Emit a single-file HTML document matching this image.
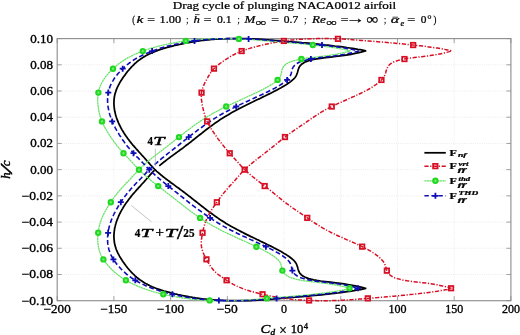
<!DOCTYPE html>
<html><head><meta charset="utf-8"><title>Drag cycle of plunging NACA0012 airfoil</title>
<style>html,body{margin:0;padding:0;background:#fff}svg text{white-space:pre}</style></head>
<body>
<svg width="520" height="335" viewBox="0 0 520 335" style="display:block;filter:blur(0.4px)">
<rect width="520" height="335" fill="#fff"/>
<path d="M113.91 38.6 V300.7 M170.62 38.6 V300.7 M227.34 38.6 V300.7 M284.05 38.6 V300.7 M340.76 38.6 V300.7 M397.47 38.6 V300.7 M454.19 38.6 V300.7 M57.2 64.81 H510.9 M57.2 91.02 H510.9 M57.2 117.23 H510.9 M57.2 143.44 H510.9 M57.2 169.65 H510.9 M57.2 195.86 H510.9 M57.2 222.07 H510.9 M57.2 248.28 H510.9 M57.2 274.49 H510.9" fill="none" stroke="#dedede" stroke-width="0.7" stroke-dasharray="0.8 1.4"/>
<rect x="57.2" y="38.6" width="453.7" height="262.1" fill="none" stroke="#909090" stroke-width="1.15"/>
<path d="M57.20 300.7v-4.5M57.20 38.6v4.5 M113.91 300.7v-4.5M113.91 38.6v4.5 M170.62 300.7v-4.5M170.62 38.6v4.5 M227.34 300.7v-4.5M227.34 38.6v4.5 M284.05 300.7v-4.5M284.05 38.6v4.5 M340.76 300.7v-4.5M340.76 38.6v4.5 M397.47 300.7v-4.5M397.47 38.6v4.5 M454.19 300.7v-4.5M454.19 38.6v4.5 M510.90 300.7v-4.5M510.90 38.6v4.5 M57.2 38.60h4.5M510.9 38.60h-4.5 M57.2 64.81h4.5M510.9 64.81h-4.5 M57.2 91.02h4.5M510.9 91.02h-4.5 M57.2 117.23h4.5M510.9 117.23h-4.5 M57.2 143.44h4.5M510.9 143.44h-4.5 M57.2 169.65h4.5M510.9 169.65h-4.5 M57.2 195.86h4.5M510.9 195.86h-4.5 M57.2 222.07h4.5M510.9 222.07h-4.5 M57.2 248.28h4.5M510.9 248.28h-4.5 M57.2 274.49h4.5M510.9 274.49h-4.5 M57.2 300.70h4.5M510.9 300.70h-4.5" fill="none" stroke="#8a8a8a" stroke-width="0.8"/>
<g fill="none" stroke-linejoin="round">
<path d="M159.3 165.8 L160.7 164.6 L162.1 163.5 L163.5 162.3 L165.0 161.2 L166.4 160.1 L168.0 158.9 L169.5 157.8 L171.0 156.6 L172.6 155.5 L174.1 154.4 L175.7 153.2 L177.2 152.1 L178.8 151.0 L180.3 149.8 L181.9 148.7 L183.4 147.6 L184.9 146.4 L186.3 145.3 L187.8 144.2 L189.2 143.1 L190.7 142.0 L192.1 140.8 L193.5 139.7 L194.9 138.6 L196.3 137.5 L197.7 136.4 L199.1 135.3 L200.5 134.2 L201.9 133.1 L203.3 132.0 L204.7 130.9 L206.1 129.8 L207.5 128.7 L209.0 127.6 L210.4 126.6 L211.9 125.5 L213.4 124.4 L214.9 123.3 L216.4 122.3 L218.0 121.2 L219.5 120.1 L221.1 119.1 L222.8 118.0 L224.4 117.0 L226.1 115.9 L227.9 114.9 L229.6 113.9 L231.4 112.8 L233.3 111.8 L235.2 110.8 L237.1 109.7 L239.0 108.7 L241.0 107.7 L242.9 106.7 L244.9 105.7 L246.9 104.7 L249.0 103.7 L251.0 102.7 L253.0 101.8 L255.0 100.8 L257.0 99.8 L259.1 98.9 L261.0 97.9 L263.0 96.9 L265.0 96.0 L266.9 95.0 L268.8 94.1 L270.7 93.2 L272.5 92.3 L274.3 91.3 L276.1 90.4 L277.8 89.5 L279.5 88.6 L281.1 87.7 L282.6 86.8 L284.1 85.9 L285.6 85.1 L286.9 84.2 L288.2 83.3 L289.4 82.5 L290.6 81.6 L291.6 80.8 L292.6 79.9 L293.5 79.1 L294.3 78.3 L295.0 77.5 L295.6 76.7 L296.1 75.9 L296.5 75.1 L296.8 74.3 L297.1 73.5 L297.4 72.7 L297.6 72.0 L297.8 71.2 L298.0 70.4 L298.2 69.7 L298.5 69.0 L298.7 68.2 L299.1 67.5 L299.4 66.8 L299.9 66.1 L300.5 65.4 L301.1 64.7 L301.9 64.0 L302.8 63.4 L303.9 62.7 L305.2 62.0 L306.8 61.4 L308.7 60.7 L311.0 60.1 L313.7 59.5 L316.8 58.9 L320.6 58.3 L325.3 57.7 L330.7 57.1 L335.7 56.5 L340.2 55.9 L344.2 55.4 L347.8 54.8 L351.0 54.3 L353.9 53.7 L356.5 53.2 L358.8 52.7 L360.9 52.2 L362.8 51.7 L364.6 51.2 L365.6 50.9 L364.8 50.7 L362.7 50.2 L360.3 49.7 L357.9 49.3 L355.3 48.8 L352.6 48.4 L349.8 48.0 L347.0 47.6 L344.0 47.1 L340.9 46.7 L337.8 46.3 L334.6 46.0 L331.4 45.6 L328.2 45.2 L324.9 44.9 L321.6 44.5 L318.3 44.2 L315.0 43.9 L311.7 43.6 L308.5 43.2 L305.2 42.9 L302.0 42.7 L298.8 42.4 L295.6 42.1 L292.5 41.9 L289.5 41.6 L286.5 41.4 L283.7 41.1 L281.0 40.9 L278.5 40.7 L276.1 40.5 L273.9 40.3 L271.8 40.1 L269.8 40.0 L267.8 39.8 L266.0 39.7 L264.2 39.5 L262.4 39.4 L260.7 39.3 L259.0 39.2 L257.2 39.1 L255.5 39.0 L253.6 38.9 L251.8 38.8 L249.8 38.8 L247.9 38.7 L245.8 38.7 L243.8 38.6 L241.7 38.6 L239.5 38.6 L237.4 38.6 L235.3 38.6 L233.2 38.6 L231.0 38.7 L228.9 38.7 L226.9 38.7 L224.8 38.8 L222.8 38.9 L220.9 39.0 L219.0 39.0 L217.2 39.1 L215.3 39.2 L213.6 39.4 L211.9 39.5 L210.2 39.6 L208.5 39.8 L206.9 39.9 L205.3 40.1 L203.7 40.3 L202.1 40.5 L200.6 40.7 L199.0 40.9 L197.5 41.1 L196.0 41.3 L194.5 41.6 L193.0 41.8 L191.5 42.1 L190.0 42.3 L188.5 42.6 L187.0 42.9 L185.5 43.2 L184.0 43.5 L182.5 43.8 L180.9 44.1 L179.4 44.5 L177.8 44.8 L176.3 45.2 L174.7 45.5 L173.2 45.9 L171.6 46.3 L170.1 46.7 L168.6 47.1 L167.1 47.5 L165.6 47.9 L164.1 48.3 L162.7 48.8 L161.3 49.2 L159.9 49.7 L158.5 50.1 L157.2 50.6 L155.9 51.1 L154.6 51.6 L153.4 52.1 L152.2 52.6 L151.1 53.1 L149.9 53.6 L148.8 54.2 L147.8 54.7 L146.7 55.3 L145.7 55.8 L144.7 56.4 L143.7 57.0 L142.8 57.6 L141.9 58.2 L141.0 58.8 L140.1 59.4 L139.3 60.0 L138.4 60.6 L137.6 61.3 L136.8 61.9 L136.1 62.6 L135.3 63.2 L134.6 63.9 L133.9 64.6 L133.2 65.3 L132.5 66.0 L131.8 66.7 L131.1 67.4 L130.5 68.1 L129.8 68.8 L129.2 69.6 L128.6 70.3 L127.9 71.0 L127.3 71.8 L126.7 72.6 L126.1 73.3 L125.6 74.1 L125.0 74.9 L124.4 75.7 L123.8 76.5 L123.2 77.3 L122.7 78.1 L122.1 78.9 L121.6 79.8 L121.1 80.6 L120.5 81.5 L120.0 82.3 L119.5 83.2 L119.1 84.0 L118.6 84.9 L118.1 85.8 L117.7 86.6 L117.3 87.5 L116.9 88.4 L116.5 89.3 L116.2 90.2 L115.9 91.1 L115.6 92.1 L115.3 93.0 L115.0 93.9 L114.8 94.9 L114.6 95.8 L114.4 96.7 L114.3 97.7 L114.2 98.7 L114.1 99.6 L114.0 100.6 L114.0 101.6 L113.9 102.5 L113.9 103.5 L114.0 104.5 L114.0 105.5 L114.1 106.5 L114.2 107.5 L114.3 108.5 L114.5 109.5 L114.6 110.6 L114.8 111.6 L115.1 112.6 L115.3 113.6 L115.6 114.7 L115.9 115.7 L116.2 116.8 L116.5 117.8 L116.9 118.9 L117.3 119.9 L117.7 121.0 L118.2 122.0 L118.6 123.1 L119.1 124.2 L119.6 125.3 L120.2 126.3 L120.7 127.4 L121.3 128.5 L121.9 129.6 L122.6 130.7 L123.2 131.8 L123.9 132.9 L124.6 134.0 L125.3 135.1 L126.1 136.2 L126.9 137.3 L127.7 138.4 L128.5 139.5 L129.3 140.6 L130.2 141.7 L131.1 142.9 L132.0 144.0 L132.9 145.1 L133.9 146.2 L134.9 147.3 L135.9 148.5 L136.9 149.6 L137.9 150.7 L138.9 151.9 L140.0 153.0 L141.0 154.1 L142.0 155.3 L143.1 156.4 L144.1 157.5 L145.1 158.7 L146.1 159.8 L147.1 161.0 L148.1 162.1 L149.1 163.2 L150.1 164.4 L151.1 165.5 L152.2 166.7 L153.2 167.8 L154.4 169.0 L155.5 170.1 L156.7 171.3 L158.0 172.4 L159.3 173.5 L160.7 174.7 L162.1 175.8 L163.5 177.0 L165.0 178.1 L166.4 179.2 L168.0 180.4 L169.5 181.5 L171.0 182.7 L172.6 183.8 L174.1 184.9 L175.7 186.1 L177.2 187.2 L178.8 188.3 L180.3 189.5 L181.9 190.6 L183.4 191.7 L184.9 192.9 L186.3 194.0 L187.8 195.1 L189.2 196.2 L190.7 197.3 L192.1 198.5 L193.5 199.6 L194.9 200.7 L196.3 201.8 L197.7 202.9 L199.1 204.0 L200.5 205.1 L201.9 206.2 L203.3 207.3 L204.7 208.4 L206.1 209.5 L207.5 210.6 L209.0 211.7 L210.4 212.7 L211.9 213.8 L213.4 214.9 L214.9 216.0 L216.4 217.0 L218.0 218.1 L219.5 219.2 L221.1 220.2 L222.8 221.3 L224.4 222.3 L226.1 223.4 L227.9 224.4 L229.6 225.4 L231.4 226.5 L233.3 227.5 L235.2 228.5 L237.1 229.6 L239.0 230.6 L241.0 231.6 L242.9 232.6 L244.9 233.6 L246.9 234.6 L249.0 235.6 L251.0 236.6 L253.0 237.5 L255.0 238.5 L257.0 239.5 L259.1 240.4 L261.0 241.4 L263.0 242.4 L265.0 243.3 L266.9 244.3 L268.8 245.2 L270.7 246.1 L272.5 247.0 L274.3 248.0 L276.1 248.9 L277.8 249.8 L279.5 250.7 L281.1 251.6 L282.6 252.5 L284.1 253.4 L285.6 254.2 L286.9 255.1 L288.2 256.0 L289.4 256.8 L290.6 257.7 L291.6 258.5 L292.6 259.4 L293.5 260.2 L294.3 261.0 L295.0 261.8 L295.6 262.6 L296.1 263.4 L296.5 264.2 L296.8 265.0 L297.1 265.8 L297.4 266.6 L297.6 267.3 L297.8 268.1 L298.0 268.9 L298.2 269.6 L298.5 270.3 L298.7 271.1 L299.1 271.8 L299.4 272.5 L299.9 273.2 L300.5 273.9 L301.1 274.6 L301.9 275.3 L302.8 275.9 L303.9 276.6 L305.2 277.3 L306.8 277.9 L308.7 278.6 L311.0 279.2 L313.7 279.8 L316.8 280.4 L320.6 281.0 L325.3 281.6 L330.7 282.2 L335.7 282.8 L340.2 283.4 L344.2 283.9 L347.8 284.5 L351.0 285.0 L353.9 285.6 L356.5 286.1 L358.8 286.6 L360.9 287.1 L362.8 287.6 L364.6 288.1 L365.6 288.4 L364.8 288.6 L362.7 289.1 L360.3 289.6 L357.9 290.0 L355.3 290.5 L352.6 290.9 L349.8 291.3 L347.0 291.7 L344.0 292.2 L340.9 292.6 L337.8 293.0 L334.6 293.3 L331.4 293.7 L328.2 294.1 L324.9 294.4 L321.6 294.8 L318.3 295.1 L315.0 295.4 L311.7 295.7 L308.5 296.1 L305.2 296.4 L302.0 296.6 L298.8 296.9 L295.6 297.2 L292.5 297.4 L289.5 297.7 L286.5 297.9 L283.7 298.2 L281.0 298.4 L278.5 298.6 L276.1 298.8 L273.9 299.0 L271.8 299.2 L269.8 299.3 L267.8 299.5 L266.0 299.6 L264.2 299.8 L262.4 299.9 L260.7 300.0 L259.0 300.1 L257.2 300.2 L255.5 300.3 L253.6 300.4 L251.8 300.5 L249.8 300.5 L247.9 300.6 L245.8 300.6 L243.8 300.7 L241.7 300.7 L239.5 300.7 L237.4 300.7 L235.3 300.7 L233.2 300.7 L231.0 300.6 L228.9 300.6 L226.9 300.6 L224.8 300.5 L222.8 300.4 L220.9 300.3 L219.0 300.3 L217.2 300.2 L215.3 300.1 L213.6 299.9 L211.9 299.8 L210.2 299.7 L208.5 299.5 L206.9 299.4 L205.3 299.2 L203.7 299.0 L202.1 298.8 L200.6 298.6 L199.0 298.4 L197.5 298.2 L196.0 298.0 L194.5 297.7 L193.0 297.5 L191.5 297.2 L190.0 297.0 L188.5 296.7 L187.0 296.4 L185.5 296.1 L184.0 295.8 L182.5 295.5 L180.9 295.2 L179.4 294.8 L177.8 294.5 L176.3 294.1 L174.7 293.8 L173.2 293.4 L171.6 293.0 L170.1 292.6 L168.6 292.2 L167.1 291.8 L165.6 291.4 L164.1 291.0 L162.7 290.5 L161.3 290.1 L159.9 289.6 L158.5 289.2 L157.2 288.7 L155.9 288.2 L154.6 287.7 L153.4 287.2 L152.2 286.7 L151.1 286.2 L149.9 285.7 L148.8 285.1 L147.8 284.6 L146.7 284.0 L145.7 283.5 L144.7 282.9 L143.7 282.3 L142.8 281.7 L141.9 281.1 L141.0 280.5 L140.1 279.9 L139.3 279.3 L138.4 278.7 L137.6 278.0 L136.8 277.4 L136.1 276.7 L135.3 276.1 L134.6 275.4 L133.9 274.7 L133.2 274.0 L132.5 273.3 L131.8 272.6 L131.1 271.9 L130.5 271.2 L129.8 270.5 L129.2 269.7 L128.6 269.0 L127.9 268.3 L127.3 267.5 L126.7 266.7 L126.1 266.0 L125.6 265.2 L125.0 264.4 L124.4 263.6 L123.8 262.8 L123.2 262.0 L122.7 261.2 L122.1 260.4 L121.6 259.5 L121.1 258.7 L120.5 257.8 L120.0 257.0 L119.5 256.1 L119.1 255.3 L118.6 254.4 L118.1 253.5 L117.7 252.7 L117.3 251.8 L116.9 250.9 L116.5 250.0 L116.2 249.1 L115.9 248.2 L115.6 247.2 L115.3 246.3 L115.0 245.4 L114.8 244.4 L114.6 243.5 L114.4 242.6 L114.3 241.6 L114.2 240.6 L114.1 239.7 L114.0 238.7 L114.0 237.7 L113.9 236.8 L113.9 235.8 L114.0 234.8 L114.0 233.8 L114.1 232.8 L114.2 231.8 L114.3 230.8 L114.5 229.8 L114.6 228.7 L114.8 227.7 L115.1 226.7 L115.3 225.7 L115.6 224.6 L115.9 223.6 L116.2 222.5 L116.5 221.5 L116.9 220.4 L117.3 219.4 L117.7 218.3 L118.2 217.3 L118.6 216.2 L119.1 215.1 L119.6 214.0 L120.2 213.0 L120.7 211.9 L121.3 210.8 L121.9 209.7 L122.6 208.6 L123.2 207.5 L123.9 206.4 L124.6 205.3 L125.3 204.2 L126.1 203.1 L126.9 202.0 L127.7 200.9 L128.5 199.8 L129.3 198.7 L130.2 197.6 L131.1 196.4 L132.0 195.3 L132.9 194.2 L133.9 193.1 L134.9 192.0 L135.9 190.8 L136.9 189.7 L137.9 188.6 L138.9 187.4 L140.0 186.3 L141.0 185.2 L142.0 184.0 L143.1 182.9 L144.1 181.8 L145.1 180.6 L146.1 179.5 L147.1 178.3 L148.1 177.2 L149.1 176.1 L150.1 174.9 L151.1 173.8 L152.2 172.6 L153.2 171.5 L154.4 170.3" stroke="#000" stroke-width="1.75"/>
<path d="M244.7 169.7 L245.9 168.5 L247.1 167.4 L248.4 166.2 L249.7 165.1 L251.1 163.9 L252.5 162.8 L253.9 161.6 L255.3 160.5 L256.7 159.4 L258.2 158.2 L259.7 157.1 L261.2 156.0 L262.6 154.8 L264.1 153.7 L265.6 152.5 L267.0 151.4 L268.5 150.3 L269.9 149.1 L271.3 148.0 L272.7 146.9 L274.1 145.8 L275.5 144.6 L276.9 143.5 L278.2 142.4 L279.6 141.3 L281.0 140.2 L282.4 139.1 L283.8 137.9 L285.3 136.8 L286.7 135.7 L288.2 134.6 L289.7 133.5 L291.3 132.4 L292.8 131.3 L294.4 130.2 L296.0 129.2 L297.5 128.1 L299.1 127.0 L300.7 125.9 L302.3 124.8 L303.9 123.8 L305.4 122.7 L307.0 121.6 L308.5 120.6 L310.1 119.5 L311.6 118.4 L313.2 117.4 L314.7 116.3 L316.3 115.3 L317.9 114.3 L319.6 113.2 L321.3 112.2 L323.0 111.2 L324.8 110.2 L326.7 109.1 L328.6 108.1 L330.5 107.1 L332.6 106.1 L334.6 105.1 L336.7 104.1 L338.9 103.1 L341.1 102.2 L343.3 101.2 L345.5 100.2 L347.7 99.2 L349.8 98.3 L352.0 97.3 L354.1 96.4 L356.2 95.4 L358.3 94.5 L360.3 93.5 L362.2 92.6 L364.0 91.7 L365.8 90.8 L367.5 89.9 L369.1 89.0 L370.7 88.1 L372.1 87.2 L373.5 86.3 L374.8 85.4 L376.1 84.5 L377.2 83.7 L378.3 82.8 L379.3 82.0 L380.3 81.1 L381.1 80.3 L381.9 79.4 L382.6 78.6 L383.3 77.8 L383.8 77.0 L384.3 76.2 L384.7 75.4 L385.0 74.6 L385.3 73.8 L385.6 73.0 L385.8 72.3 L386.0 71.5 L386.2 70.7 L386.4 70.0 L386.7 69.3 L387.0 68.5 L387.3 67.8 L387.7 67.1 L388.1 66.4 L388.6 65.7 L389.2 65.0 L390.0 64.3 L390.8 63.6 L391.9 63.0 L393.1 62.3 L394.6 61.6 L396.3 61.0 L398.4 60.4 L400.9 59.7 L403.8 59.1 L407.2 58.5 L411.4 57.9 L416.5 57.3 L421.6 56.7 L426.2 56.2 L430.2 55.6 L433.9 55.0 L437.1 54.5 L439.9 53.9 L442.4 53.4 L444.7 52.9 L446.7 52.4 L448.5 51.9 L450.1 51.4 L451.7 50.9 L449.7 50.4 L447.5 49.9 L445.2 49.5 L442.7 49.0 L440.1 48.6 L437.4 48.1 L434.6 47.7 L431.8 47.3 L428.8 46.9 L425.8 46.5 L422.7 46.1 L419.5 45.7 L416.4 45.4 L413.1 45.0 L409.9 44.7 L406.7 44.3 L403.4 44.0 L400.2 43.7 L396.9 43.4 L393.7 43.1 L390.5 42.8 L387.2 42.5 L384.1 42.2 L380.9 42.0 L377.8 41.7 L374.8 41.5 L371.8 41.2 L369.0 41.0 L366.3 40.8 L363.7 40.6 L361.3 40.4 L359.0 40.2 L356.8 40.0 L354.7 39.9 L352.7 39.7 L350.7 39.6 L348.8 39.4 L346.9 39.3 L345.0 39.2 L343.1 39.1 L341.3 39.0 L339.4 38.9 L337.5 38.8 L335.6 38.8 L333.7 38.7 L331.7 38.7 L329.7 38.6 L327.7 38.6 L325.6 38.6 L323.6 38.6 L321.5 38.6 L319.5 38.6 L317.4 38.6 L315.4 38.7 L313.4 38.7 L311.4 38.8 L309.4 38.8 L307.5 38.9 L305.5 39.0 L303.7 39.1 L301.8 39.2 L300.0 39.3 L298.2 39.4 L296.4 39.6 L294.6 39.7 L292.9 39.9 L291.2 40.0 L289.6 40.2 L287.9 40.4 L286.3 40.6 L284.8 40.8 L283.2 41.0 L281.7 41.2 L280.2 41.5 L278.7 41.7 L277.3 42.0 L275.8 42.2 L274.4 42.5 L272.9 42.8 L271.5 43.1 L270.0 43.4 L268.6 43.7 L267.1 44.0 L265.6 44.3 L264.1 44.7 L262.6 45.0 L261.0 45.4 L259.5 45.7 L258.0 46.1 L256.5 46.5 L254.9 46.9 L253.4 47.3 L251.9 47.7 L250.5 48.1 L249.0 48.6 L247.6 49.0 L246.2 49.5 L244.8 49.9 L243.5 50.4 L242.2 50.9 L241.0 51.4 L239.7 51.9 L238.6 52.4 L237.4 52.9 L236.3 53.4 L235.3 53.9 L234.2 54.5 L233.2 55.0 L232.2 55.6 L231.2 56.2 L230.2 56.7 L229.2 57.3 L228.3 57.9 L227.3 58.5 L226.4 59.1 L225.4 59.7 L224.5 60.4 L223.5 61.0 L222.6 61.6 L221.6 62.3 L220.7 63.0 L219.8 63.6 L218.9 64.3 L218.0 65.0 L217.2 65.7 L216.4 66.4 L215.6 67.1 L214.8 67.8 L214.1 68.5 L213.4 69.3 L212.8 70.0 L212.2 70.7 L211.6 71.5 L211.0 72.3 L210.5 73.0 L210.0 73.8 L209.5 74.6 L209.0 75.4 L208.5 76.2 L208.0 77.0 L207.6 77.8 L207.1 78.6 L206.7 79.4 L206.2 80.3 L205.8 81.1 L205.3 82.0 L204.9 82.8 L204.5 83.7 L204.1 84.5 L203.7 85.4 L203.3 86.3 L203.0 87.2 L202.7 88.1 L202.4 89.0 L202.1 89.9 L201.9 90.8 L201.7 91.7 L201.5 92.6 L201.4 93.5 L201.3 94.5 L201.3 95.4 L201.3 96.4 L201.3 97.3 L201.3 98.3 L201.4 99.2 L201.5 100.2 L201.7 101.2 L201.8 102.2 L202.0 103.1 L202.1 104.1 L202.3 105.1 L202.5 106.1 L202.7 107.1 L202.9 108.1 L203.2 109.1 L203.4 110.2 L203.6 111.2 L203.9 112.2 L204.2 113.2 L204.5 114.3 L204.8 115.3 L205.1 116.3 L205.5 117.4 L205.9 118.4 L206.3 119.5 L206.7 120.6 L207.2 121.6 L207.7 122.7 L208.3 123.8 L208.9 124.8 L209.5 125.9 L210.1 127.0 L210.7 128.1 L211.4 129.2 L212.1 130.2 L212.8 131.3 L213.6 132.4 L214.3 133.5 L215.1 134.6 L215.9 135.7 L216.6 136.8 L217.4 137.9 L218.2 139.1 L219.1 140.2 L219.9 141.3 L220.7 142.4 L221.6 143.5 L222.5 144.6 L223.4 145.8 L224.3 146.9 L225.2 148.0 L226.2 149.1 L227.2 150.3 L228.1 151.4 L229.1 152.5 L230.1 153.7 L231.2 154.8 L232.2 156.0 L233.2 157.1 L234.2 158.2 L235.3 159.4 L236.3 160.5 L237.3 161.6 L238.3 162.8 L239.3 163.9 L240.3 165.1 L241.3 166.2 L242.4 167.4 L243.5 168.5 L244.7 169.6 L245.9 170.8 L247.1 171.9 L248.4 173.1 L249.7 174.2 L251.1 175.4 L252.5 176.5 L253.9 177.7 L255.3 178.8 L256.7 179.9 L258.2 181.1 L259.7 182.2 L261.2 183.3 L262.6 184.5 L264.1 185.6 L265.6 186.8 L267.0 187.9 L268.5 189.0 L269.9 190.2 L271.3 191.3 L272.7 192.4 L274.1 193.5 L275.5 194.7 L276.9 195.8 L278.2 196.9 L279.6 198.0 L281.0 199.1 L282.4 200.2 L283.8 201.4 L285.3 202.5 L286.7 203.6 L288.2 204.7 L289.7 205.8 L291.3 206.9 L292.8 208.0 L294.4 209.1 L296.0 210.1 L297.5 211.2 L299.1 212.3 L300.7 213.4 L302.3 214.5 L303.9 215.5 L305.4 216.6 L307.0 217.7 L308.5 218.7 L310.1 219.8 L311.6 220.9 L313.2 221.9 L314.7 223.0 L316.3 224.0 L317.9 225.0 L319.6 226.1 L321.3 227.1 L323.0 228.1 L324.8 229.1 L326.7 230.2 L328.6 231.2 L330.5 232.2 L332.6 233.2 L334.6 234.2 L336.7 235.2 L338.9 236.2 L341.1 237.1 L343.3 238.1 L345.5 239.1 L347.7 240.1 L349.8 241.0 L352.0 242.0 L354.1 242.9 L356.2 243.9 L358.3 244.8 L360.3 245.8 L362.2 246.7 L364.0 247.6 L365.8 248.5 L367.5 249.4 L369.1 250.3 L370.7 251.2 L372.1 252.1 L373.5 253.0 L374.8 253.9 L376.1 254.8 L377.2 255.6 L378.3 256.5 L379.3 257.3 L380.3 258.2 L381.1 259.0 L381.9 259.9 L382.6 260.7 L383.3 261.5 L383.8 262.3 L384.3 263.1 L384.7 263.9 L385.0 264.7 L385.3 265.5 L385.6 266.3 L385.8 267.0 L386.0 267.8 L386.2 268.6 L386.4 269.3 L386.7 270.0 L387.0 270.8 L387.3 271.5 L387.7 272.2 L388.1 272.9 L388.6 273.6 L389.2 274.3 L390.0 275.0 L390.8 275.7 L391.9 276.3 L393.1 277.0 L394.6 277.7 L396.3 278.3 L398.4 278.9 L400.9 279.6 L403.8 280.2 L407.2 280.8 L411.4 281.4 L416.5 282.0 L421.6 282.6 L426.2 283.1 L430.2 283.7 L433.9 284.3 L437.1 284.8 L439.9 285.4 L442.4 285.9 L444.7 286.4 L446.7 286.9 L448.5 287.4 L450.1 287.9 L451.7 288.4 L449.7 288.9 L447.5 289.4 L445.2 289.8 L442.7 290.3 L440.1 290.7 L437.4 291.2 L434.6 291.6 L431.8 292.0 L428.8 292.4 L425.8 292.8 L422.7 293.2 L419.5 293.6 L416.4 293.9 L413.1 294.3 L409.9 294.6 L406.7 295.0 L403.4 295.3 L400.2 295.6 L396.9 295.9 L393.7 296.2 L390.5 296.5 L387.2 296.8 L384.1 297.1 L380.9 297.3 L377.8 297.6 L374.8 297.8 L371.8 298.1 L369.0 298.3 L366.3 298.5 L363.7 298.7 L361.3 298.9 L359.0 299.1 L356.8 299.3 L354.7 299.4 L352.7 299.6 L350.7 299.7 L348.8 299.9 L346.9 300.0 L345.0 300.1 L343.1 300.2 L341.3 300.3 L339.4 300.4 L337.5 300.5 L335.6 300.5 L333.7 300.6 L331.7 300.6 L329.7 300.7 L327.7 300.7 L325.6 300.7 L323.6 300.7 L321.5 300.7 L319.5 300.7 L317.4 300.7 L315.4 300.6 L313.4 300.6 L311.4 300.5 L309.4 300.5 L307.5 300.4 L305.5 300.3 L303.7 300.2 L301.8 300.1 L300.0 300.0 L298.2 299.9 L296.4 299.7 L294.6 299.6 L292.9 299.4 L291.2 299.3 L289.6 299.1 L287.9 298.9 L286.3 298.7 L284.8 298.5 L283.2 298.3 L281.7 298.1 L280.2 297.8 L278.7 297.6 L277.3 297.3 L275.8 297.1 L274.4 296.8 L272.9 296.5 L271.5 296.2 L270.0 295.9 L268.6 295.6 L267.1 295.3 L265.6 295.0 L264.1 294.6 L262.6 294.3 L261.0 293.9 L259.5 293.6 L258.0 293.2 L256.5 292.8 L254.9 292.4 L253.4 292.0 L251.9 291.6 L250.5 291.2 L249.0 290.7 L247.6 290.3 L246.2 289.8 L244.8 289.4 L243.5 288.9 L242.2 288.4 L241.0 287.9 L239.7 287.4 L238.6 286.9 L237.4 286.4 L236.3 285.9 L235.3 285.4 L234.2 284.8 L233.2 284.3 L232.2 283.7 L231.2 283.1 L230.2 282.6 L229.2 282.0 L228.3 281.4 L227.3 280.8 L226.4 280.2 L225.4 279.6 L224.5 278.9 L223.5 278.3 L222.6 277.7 L221.6 277.0 L220.7 276.3 L219.8 275.7 L218.9 275.0 L218.0 274.3 L217.2 273.6 L216.4 272.9 L215.6 272.2 L214.8 271.5 L214.1 270.8 L213.4 270.0 L212.8 269.3 L212.2 268.6 L211.6 267.8 L211.0 267.0 L210.5 266.3 L210.0 265.5 L209.5 264.7 L209.0 263.9 L208.5 263.1 L208.0 262.3 L207.6 261.5 L207.1 260.7 L206.7 259.9 L206.2 259.0 L205.8 258.2 L205.3 257.3 L204.9 256.5 L204.5 255.6 L204.1 254.8 L203.7 253.9 L203.3 253.0 L203.0 252.1 L202.7 251.2 L202.4 250.3 L202.1 249.4 L201.9 248.5 L201.7 247.6 L201.5 246.7 L201.4 245.8 L201.3 244.8 L201.3 243.9 L201.3 242.9 L201.3 242.0 L201.3 241.0 L201.4 240.1 L201.5 239.1 L201.7 238.1 L201.8 237.1 L202.0 236.2 L202.1 235.2 L202.3 234.2 L202.5 233.2 L202.7 232.2 L202.9 231.2 L203.2 230.2 L203.4 229.1 L203.6 228.1 L203.9 227.1 L204.2 226.1 L204.5 225.0 L204.8 224.0 L205.1 223.0 L205.5 221.9 L205.9 220.9 L206.3 219.8 L206.7 218.7 L207.2 217.7 L207.7 216.6 L208.3 215.5 L208.9 214.5 L209.5 213.4 L210.1 212.3 L210.7 211.2 L211.4 210.1 L212.1 209.1 L212.8 208.0 L213.6 206.9 L214.3 205.8 L215.1 204.7 L215.9 203.6 L216.6 202.5 L217.4 201.4 L218.2 200.2 L219.1 199.1 L219.9 198.0 L220.7 196.9 L221.6 195.8 L222.5 194.7 L223.4 193.5 L224.3 192.4 L225.2 191.3 L226.2 190.2 L227.2 189.0 L228.1 187.9 L229.1 186.8 L230.1 185.6 L231.2 184.5 L232.2 183.3 L233.2 182.2 L234.2 181.1 L235.3 179.9 L236.3 178.8 L237.3 177.7 L238.3 176.5 L239.3 175.4 L240.3 174.2 L241.3 173.1 L242.4 171.9 L243.5 170.8 L244.7 169.7" stroke="#d80f24" stroke-width="1.5" stroke-dasharray="4.2 1.6 1.2 1.6"/>
<path d="M139.0 169.7 L140.2 168.5 L141.3 167.4 L142.6 166.2 L143.8 165.1 L145.1 163.9 L146.4 162.8 L147.7 161.6 L149.1 160.5 L150.4 159.4 L151.8 158.2 L153.2 157.1 L154.7 156.0 L156.1 154.8 L157.6 153.7 L159.0 152.5 L160.5 151.4 L162.0 150.3 L163.5 149.1 L164.9 148.0 L166.4 146.9 L167.9 145.8 L169.3 144.6 L170.7 143.5 L172.2 142.4 L173.6 141.3 L175.0 140.2 L176.4 139.1 L177.8 137.9 L179.3 136.8 L180.7 135.7 L182.1 134.6 L183.5 133.5 L184.9 132.4 L186.3 131.3 L187.8 130.2 L189.2 129.2 L190.7 128.1 L192.1 127.0 L193.6 125.9 L195.1 124.8 L196.6 123.8 L198.2 122.7 L199.7 121.6 L201.3 120.6 L202.9 119.5 L204.6 118.4 L206.2 117.4 L207.9 116.3 L209.7 115.3 L211.4 114.3 L213.2 113.2 L215.1 112.2 L217.0 111.2 L218.9 110.2 L220.9 109.1 L222.9 108.1 L225.0 107.1 L227.0 106.1 L229.1 105.1 L231.3 104.1 L233.4 103.1 L235.5 102.2 L237.7 101.2 L239.8 100.2 L242.0 99.2 L244.1 98.3 L246.2 97.3 L248.3 96.4 L250.4 95.4 L252.4 94.5 L254.4 93.5 L256.4 92.6 L258.3 91.7 L260.1 90.8 L262.0 89.9 L263.7 89.0 L265.4 88.1 L267.0 87.2 L268.6 86.3 L270.1 85.4 L271.5 84.5 L272.8 83.7 L274.1 82.8 L275.2 82.0 L276.3 81.1 L277.2 80.3 L278.1 79.4 L278.8 78.6 L279.5 77.8 L280.0 77.0 L280.4 76.2 L280.8 75.4 L281.0 74.6 L281.2 73.8 L281.4 73.0 L281.6 72.3 L281.7 71.5 L281.8 70.7 L282.0 70.0 L282.2 69.3 L282.5 68.5 L282.8 67.8 L283.2 67.1 L283.7 66.4 L284.3 65.7 L285.0 65.0 L285.9 64.3 L286.8 63.6 L288.0 63.0 L289.3 62.3 L291.0 61.6 L292.9 61.0 L295.1 60.4 L297.7 59.7 L300.7 59.1 L304.2 58.5 L308.6 57.9 L313.8 57.3 L319.0 56.7 L323.7 56.2 L327.9 55.6 L331.6 55.0 L334.9 54.5 L337.9 53.9 L340.5 53.4 L342.8 52.9 L344.9 52.4 L346.8 51.9 L348.6 51.4 L350.2 50.9 L348.3 50.4 L346.3 49.9 L344.0 49.5 L341.7 49.0 L339.2 48.6 L336.7 48.1 L334.0 47.7 L331.2 47.3 L328.3 46.9 L325.3 46.5 L322.3 46.1 L319.2 45.7 L316.0 45.4 L312.8 45.0 L309.5 44.7 L306.2 44.3 L302.9 44.0 L299.6 43.7 L296.2 43.4 L292.9 43.1 L289.6 42.8 L286.3 42.5 L283.1 42.2 L279.9 42.0 L276.7 41.7 L273.6 41.5 L270.7 41.2 L267.9 41.0 L265.3 40.8 L262.8 40.6 L260.5 40.4 L258.3 40.2 L256.3 40.0 L254.4 39.9 L252.5 39.7 L250.7 39.6 L248.9 39.4 L247.2 39.3 L245.5 39.2 L243.8 39.1 L242.1 39.0 L240.3 38.9 L238.5 38.8 L236.7 38.8 L234.7 38.7 L232.7 38.7 L230.7 38.6 L228.6 38.6 L226.6 38.6 L224.5 38.6 L222.4 38.6 L220.3 38.6 L218.2 38.6 L216.1 38.7 L214.0 38.7 L212.0 38.8 L210.1 38.8 L208.2 38.9 L206.3 39.0 L204.5 39.1 L202.7 39.2 L201.0 39.3 L199.3 39.4 L197.6 39.6 L196.0 39.7 L194.4 39.9 L192.8 40.0 L191.2 40.2 L189.7 40.4 L188.1 40.6 L186.6 40.8 L185.1 41.0 L183.5 41.2 L182.0 41.5 L180.5 41.7 L178.9 42.0 L177.4 42.2 L175.8 42.5 L174.3 42.8 L172.7 43.1 L171.1 43.4 L169.6 43.7 L168.0 44.0 L166.4 44.3 L164.8 44.7 L163.3 45.0 L161.8 45.4 L160.2 45.7 L158.7 46.1 L157.2 46.5 L155.8 46.9 L154.3 47.3 L152.9 47.7 L151.4 48.1 L150.0 48.6 L148.7 49.0 L147.3 49.5 L145.9 49.9 L144.6 50.4 L143.3 50.9 L142.0 51.4 L140.7 51.9 L139.5 52.4 L138.2 52.9 L137.0 53.4 L135.8 53.9 L134.6 54.5 L133.4 55.0 L132.3 55.6 L131.1 56.2 L130.0 56.7 L128.9 57.3 L127.8 57.9 L126.8 58.5 L125.7 59.1 L124.7 59.7 L123.7 60.4 L122.7 61.0 L121.8 61.6 L120.8 62.3 L119.9 63.0 L119.0 63.6 L118.1 64.3 L117.2 65.0 L116.4 65.7 L115.5 66.4 L114.7 67.1 L113.9 67.8 L113.1 68.5 L112.4 69.3 L111.6 70.0 L110.9 70.7 L110.1 71.5 L109.4 72.3 L108.7 73.0 L108.1 73.8 L107.4 74.6 L106.7 75.4 L106.1 76.2 L105.5 77.0 L104.9 77.8 L104.3 78.6 L103.7 79.4 L103.2 80.3 L102.7 81.1 L102.2 82.0 L101.8 82.8 L101.3 83.7 L100.9 84.5 L100.5 85.4 L100.2 86.3 L99.9 87.2 L99.5 88.1 L99.3 89.0 L99.0 89.9 L98.8 90.8 L98.6 91.7 L98.4 92.6 L98.2 93.5 L98.1 94.5 L98.0 95.4 L97.9 96.4 L97.8 97.3 L97.8 98.3 L97.7 99.2 L97.7 100.2 L97.8 101.2 L97.8 102.2 L97.8 103.1 L97.9 104.1 L98.0 105.1 L98.1 106.1 L98.2 107.1 L98.4 108.1 L98.5 109.1 L98.7 110.2 L98.9 111.2 L99.1 112.2 L99.3 113.2 L99.6 114.3 L99.9 115.3 L100.2 116.3 L100.5 117.4 L100.9 118.4 L101.2 119.5 L101.6 120.6 L102.1 121.6 L102.5 122.7 L103.0 123.8 L103.5 124.8 L104.1 125.9 L104.6 127.0 L105.2 128.1 L105.8 129.2 L106.5 130.2 L107.1 131.3 L107.8 132.4 L108.5 133.5 L109.2 134.6 L109.9 135.7 L110.6 136.8 L111.3 137.9 L112.1 139.1 L112.9 140.2 L113.7 141.3 L114.5 142.4 L115.3 143.5 L116.2 144.6 L117.1 145.8 L118.0 146.9 L118.9 148.0 L119.9 149.1 L120.9 150.3 L121.9 151.4 L122.9 152.5 L124.0 153.7 L125.0 154.8 L126.1 156.0 L127.2 157.1 L128.3 158.2 L129.4 159.4 L130.4 160.5 L131.5 161.6 L132.5 162.8 L133.6 163.9 L134.6 165.1 L135.7 166.2 L136.8 167.4 L137.9 168.5 L139.0 169.6 L140.2 170.8 L141.3 171.9 L142.6 173.1 L143.8 174.2 L145.1 175.4 L146.4 176.5 L147.7 177.7 L149.1 178.8 L150.4 179.9 L151.8 181.1 L153.2 182.2 L154.7 183.3 L156.1 184.5 L157.6 185.6 L159.0 186.8 L160.5 187.9 L162.0 189.0 L163.5 190.2 L164.9 191.3 L166.4 192.4 L167.9 193.5 L169.3 194.7 L170.7 195.8 L172.2 196.9 L173.6 198.0 L175.0 199.1 L176.4 200.2 L177.8 201.4 L179.3 202.5 L180.7 203.6 L182.1 204.7 L183.5 205.8 L184.9 206.9 L186.3 208.0 L187.8 209.1 L189.2 210.1 L190.7 211.2 L192.1 212.3 L193.6 213.4 L195.1 214.5 L196.6 215.5 L198.2 216.6 L199.7 217.7 L201.3 218.7 L202.9 219.8 L204.6 220.9 L206.2 221.9 L207.9 223.0 L209.7 224.0 L211.4 225.0 L213.2 226.1 L215.1 227.1 L217.0 228.1 L218.9 229.1 L220.9 230.2 L222.9 231.2 L225.0 232.2 L227.0 233.2 L229.1 234.2 L231.3 235.2 L233.4 236.2 L235.5 237.1 L237.7 238.1 L239.8 239.1 L242.0 240.1 L244.1 241.0 L246.2 242.0 L248.3 242.9 L250.4 243.9 L252.4 244.8 L254.4 245.8 L256.4 246.7 L258.3 247.6 L260.1 248.5 L262.0 249.4 L263.7 250.3 L265.4 251.2 L267.0 252.1 L268.6 253.0 L270.1 253.9 L271.5 254.8 L272.8 255.6 L274.1 256.5 L275.2 257.3 L276.3 258.2 L277.2 259.0 L278.1 259.9 L278.8 260.7 L279.5 261.5 L280.0 262.3 L280.4 263.1 L280.8 263.9 L281.0 264.7 L281.2 265.5 L281.4 266.3 L281.6 267.0 L281.7 267.8 L281.8 268.6 L282.0 269.3 L282.2 270.0 L282.5 270.8 L282.8 271.5 L283.2 272.2 L283.7 272.9 L284.3 273.6 L285.0 274.3 L285.9 275.0 L286.8 275.7 L288.0 276.3 L289.3 277.0 L291.0 277.7 L292.9 278.3 L295.1 278.9 L297.7 279.6 L300.7 280.2 L304.2 280.8 L308.6 281.4 L313.8 282.0 L319.0 282.6 L323.7 283.1 L327.9 283.7 L331.6 284.3 L334.9 284.8 L337.9 285.4 L340.5 285.9 L342.8 286.4 L344.9 286.9 L346.8 287.4 L348.6 287.9 L350.2 288.4 L348.3 288.9 L346.3 289.4 L344.0 289.8 L341.7 290.3 L339.2 290.7 L336.7 291.2 L334.0 291.6 L331.2 292.0 L328.3 292.4 L325.3 292.8 L322.3 293.2 L319.2 293.6 L316.0 293.9 L312.8 294.3 L309.5 294.6 L306.2 295.0 L302.9 295.3 L299.6 295.6 L296.2 295.9 L292.9 296.2 L289.6 296.5 L286.3 296.8 L283.1 297.1 L279.9 297.3 L276.7 297.6 L273.6 297.8 L270.7 298.1 L267.9 298.3 L265.3 298.5 L262.8 298.7 L260.5 298.9 L258.3 299.1 L256.3 299.3 L254.4 299.4 L252.5 299.6 L250.7 299.7 L248.9 299.9 L247.2 300.0 L245.5 300.1 L243.8 300.2 L242.1 300.3 L240.3 300.4 L238.5 300.5 L236.7 300.5 L234.7 300.6 L232.7 300.6 L230.7 300.7 L228.6 300.7 L226.6 300.7 L224.5 300.7 L222.4 300.7 L220.3 300.7 L218.2 300.7 L216.1 300.6 L214.0 300.6 L212.0 300.5 L210.1 300.5 L208.2 300.4 L206.3 300.3 L204.5 300.2 L202.7 300.1 L201.0 300.0 L199.3 299.9 L197.6 299.7 L196.0 299.6 L194.4 299.4 L192.8 299.3 L191.2 299.1 L189.7 298.9 L188.1 298.7 L186.6 298.5 L185.1 298.3 L183.5 298.1 L182.0 297.8 L180.5 297.6 L178.9 297.3 L177.4 297.1 L175.8 296.8 L174.3 296.5 L172.7 296.2 L171.1 295.9 L169.6 295.6 L168.0 295.3 L166.4 295.0 L164.8 294.6 L163.3 294.3 L161.8 293.9 L160.2 293.6 L158.7 293.2 L157.2 292.8 L155.8 292.4 L154.3 292.0 L152.9 291.6 L151.4 291.2 L150.0 290.7 L148.7 290.3 L147.3 289.8 L145.9 289.4 L144.6 288.9 L143.3 288.4 L142.0 287.9 L140.7 287.4 L139.5 286.9 L138.2 286.4 L137.0 285.9 L135.8 285.4 L134.6 284.8 L133.4 284.3 L132.3 283.7 L131.1 283.1 L130.0 282.6 L128.9 282.0 L127.8 281.4 L126.8 280.8 L125.7 280.2 L124.7 279.6 L123.7 278.9 L122.7 278.3 L121.8 277.7 L120.8 277.0 L119.9 276.3 L119.0 275.7 L118.1 275.0 L117.2 274.3 L116.4 273.6 L115.5 272.9 L114.7 272.2 L113.9 271.5 L113.1 270.8 L112.4 270.0 L111.6 269.3 L110.9 268.6 L110.1 267.8 L109.4 267.0 L108.7 266.3 L108.1 265.5 L107.4 264.7 L106.7 263.9 L106.1 263.1 L105.5 262.3 L104.9 261.5 L104.3 260.7 L103.7 259.9 L103.2 259.0 L102.7 258.2 L102.2 257.3 L101.8 256.5 L101.3 255.6 L100.9 254.8 L100.5 253.9 L100.2 253.0 L99.9 252.1 L99.5 251.2 L99.3 250.3 L99.0 249.4 L98.8 248.5 L98.6 247.6 L98.4 246.7 L98.2 245.8 L98.1 244.8 L98.0 243.9 L97.9 242.9 L97.8 242.0 L97.8 241.0 L97.7 240.1 L97.7 239.1 L97.8 238.1 L97.8 237.1 L97.8 236.2 L97.9 235.2 L98.0 234.2 L98.1 233.2 L98.2 232.2 L98.4 231.2 L98.5 230.2 L98.7 229.1 L98.9 228.1 L99.1 227.1 L99.3 226.1 L99.6 225.0 L99.9 224.0 L100.2 223.0 L100.5 221.9 L100.9 220.9 L101.2 219.8 L101.6 218.7 L102.1 217.7 L102.5 216.6 L103.0 215.5 L103.5 214.5 L104.1 213.4 L104.6 212.3 L105.2 211.2 L105.8 210.1 L106.5 209.1 L107.1 208.0 L107.8 206.9 L108.5 205.8 L109.2 204.7 L109.9 203.6 L110.6 202.5 L111.3 201.4 L112.1 200.2 L112.9 199.1 L113.7 198.0 L114.5 196.9 L115.3 195.8 L116.2 194.7 L117.1 193.5 L118.0 192.4 L118.9 191.3 L119.9 190.2 L120.9 189.0 L121.9 187.9 L122.9 186.8 L124.0 185.6 L125.0 184.5 L126.1 183.3 L127.2 182.2 L128.3 181.1 L129.4 179.9 L130.4 178.8 L131.5 177.7 L132.5 176.5 L133.6 175.4 L134.6 174.2 L135.7 173.1 L136.8 171.9 L137.9 170.8 L139.0 169.7" stroke="#66e266" stroke-width="1.25" stroke-dasharray="2.2 0.4"/>
<path d="M149.3 169.7 L150.5 168.5 L151.7 167.4 L152.9 166.2 L154.1 165.1 L155.4 163.9 L156.7 162.8 L158.0 161.6 L159.4 160.5 L160.7 159.4 L162.1 158.2 L163.5 157.1 L164.9 156.0 L166.3 154.8 L167.7 153.7 L169.2 152.5 L170.6 151.4 L172.0 150.3 L173.5 149.1 L174.9 148.0 L176.4 146.9 L177.8 145.8 L179.2 144.6 L180.6 143.5 L182.0 142.4 L183.4 141.3 L184.8 140.2 L186.2 139.1 L187.6 137.9 L189.0 136.8 L190.4 135.7 L191.8 134.6 L193.3 133.5 L194.7 132.4 L196.2 131.3 L197.6 130.2 L199.1 129.2 L200.6 128.1 L202.1 127.0 L203.6 125.9 L205.1 124.8 L206.6 123.8 L208.2 122.7 L209.8 121.6 L211.4 120.6 L213.0 119.5 L214.6 118.4 L216.3 117.4 L218.0 116.3 L219.7 115.3 L221.5 114.3 L223.3 113.2 L225.2 112.2 L227.1 111.2 L229.0 110.2 L231.0 109.1 L233.0 108.1 L235.0 107.1 L237.0 106.1 L239.1 105.1 L241.2 104.1 L243.3 103.1 L245.4 102.2 L247.5 101.2 L249.6 100.2 L251.7 99.2 L253.8 98.3 L255.9 97.3 L258.0 96.4 L260.0 95.4 L262.0 94.5 L264.0 93.5 L265.9 92.6 L267.8 91.7 L269.7 90.8 L271.5 89.9 L273.2 89.0 L274.9 88.1 L276.5 87.2 L278.1 86.3 L279.6 85.4 L281.0 84.5 L282.3 83.7 L283.5 82.8 L284.7 82.0 L285.8 81.1 L286.8 80.3 L287.6 79.4 L288.4 78.6 L289.1 77.8 L289.7 77.0 L290.1 76.2 L290.5 75.4 L290.8 74.6 L291.1 73.8 L291.3 73.0 L291.5 72.3 L291.6 71.5 L291.8 70.7 L292.0 70.0 L292.2 69.3 L292.5 68.5 L292.8 67.8 L293.2 67.1 L293.7 66.4 L294.3 65.7 L295.0 65.0 L295.8 64.3 L296.7 63.6 L297.8 63.0 L299.1 62.3 L300.7 61.6 L302.6 61.0 L304.7 60.4 L307.3 59.7 L310.2 59.1 L313.7 58.5 L318.0 57.9 L323.1 57.3 L328.3 56.7 L332.8 56.2 L336.9 55.6 L340.6 55.0 L343.8 54.5 L346.7 53.9 L349.2 53.4 L351.5 52.9 L353.5 52.4 L355.3 51.9 L356.9 51.4 L358.5 50.9 L356.7 50.4 L354.7 49.9 L352.5 49.5 L350.3 49.0 L347.9 48.6 L345.4 48.1 L342.7 47.7 L340.0 47.3 L337.2 46.9 L334.3 46.5 L331.3 46.1 L328.2 45.7 L325.1 45.4 L322.0 45.0 L318.8 44.7 L315.5 44.3 L312.3 44.0 L309.0 43.7 L305.7 43.4 L302.4 43.1 L299.2 42.8 L295.9 42.5 L292.7 42.2 L289.5 42.0 L286.4 41.7 L283.4 41.5 L280.5 41.2 L277.7 41.0 L275.1 40.8 L272.6 40.6 L270.3 40.4 L268.2 40.2 L266.1 40.0 L264.2 39.9 L262.3 39.7 L260.5 39.6 L258.7 39.4 L257.0 39.3 L255.3 39.2 L253.6 39.1 L251.8 39.0 L250.0 38.9 L248.2 38.8 L246.3 38.8 L244.3 38.7 L242.3 38.7 L240.3 38.6 L238.2 38.6 L236.1 38.6 L234.0 38.6 L231.8 38.6 L229.7 38.6 L227.6 38.6 L225.5 38.7 L223.4 38.7 L221.3 38.8 L219.3 38.8 L217.4 38.9 L215.5 39.0 L213.6 39.1 L211.8 39.2 L210.0 39.3 L208.3 39.4 L206.6 39.6 L204.9 39.7 L203.3 39.9 L201.7 40.0 L200.1 40.2 L198.5 40.4 L196.9 40.6 L195.4 40.8 L193.8 41.0 L192.3 41.2 L190.8 41.5 L189.2 41.7 L187.7 42.0 L186.2 42.2 L184.7 42.5 L183.1 42.8 L181.6 43.1 L180.1 43.4 L178.5 43.7 L177.0 44.0 L175.4 44.3 L173.9 44.7 L172.4 45.0 L170.9 45.4 L169.4 45.7 L167.9 46.1 L166.4 46.5 L165.0 46.9 L163.5 47.3 L162.1 47.7 L160.7 48.1 L159.3 48.6 L158.0 49.0 L156.6 49.5 L155.3 49.9 L153.9 50.4 L152.6 50.9 L151.4 51.4 L150.1 51.9 L148.8 52.4 L147.6 52.9 L146.4 53.4 L145.1 53.9 L143.9 54.5 L142.8 55.0 L141.6 55.6 L140.5 56.2 L139.4 56.7 L138.3 57.3 L137.2 57.9 L136.1 58.5 L135.1 59.1 L134.1 59.7 L133.1 60.4 L132.2 61.0 L131.2 61.6 L130.3 62.3 L129.4 63.0 L128.5 63.6 L127.7 64.3 L126.8 65.0 L126.0 65.7 L125.2 66.4 L124.4 67.1 L123.6 67.8 L122.9 68.5 L122.1 69.3 L121.4 70.0 L120.7 70.7 L120.0 71.5 L119.3 72.3 L118.6 73.0 L117.9 73.8 L117.3 74.6 L116.6 75.4 L116.0 76.2 L115.4 77.0 L114.8 77.8 L114.2 78.6 L113.7 79.4 L113.2 80.3 L112.7 81.1 L112.2 82.0 L111.7 82.8 L111.3 83.7 L110.9 84.5 L110.5 85.4 L110.1 86.3 L109.8 87.2 L109.5 88.1 L109.2 89.0 L108.9 89.9 L108.7 90.8 L108.5 91.7 L108.3 92.6 L108.1 93.5 L108.0 94.5 L107.8 95.4 L107.7 96.4 L107.7 97.3 L107.6 98.3 L107.6 99.2 L107.6 100.2 L107.6 101.2 L107.6 102.2 L107.7 103.1 L107.8 104.1 L107.9 105.1 L108.0 106.1 L108.1 107.1 L108.3 108.1 L108.5 109.1 L108.7 110.2 L108.9 111.2 L109.2 112.2 L109.4 113.2 L109.7 114.3 L110.0 115.3 L110.4 116.3 L110.7 117.4 L111.1 118.4 L111.5 119.5 L111.9 120.6 L112.3 121.6 L112.8 122.7 L113.3 123.8 L113.8 124.8 L114.3 125.9 L114.9 127.0 L115.4 128.1 L116.0 129.2 L116.6 130.2 L117.3 131.3 L117.9 132.4 L118.6 133.5 L119.2 134.6 L119.9 135.7 L120.7 136.8 L121.4 137.9 L122.1 139.1 L122.9 140.2 L123.7 141.3 L124.5 142.4 L125.3 143.5 L126.2 144.6 L127.0 145.8 L127.9 146.9 L128.9 148.0 L129.9 149.1 L130.8 150.3 L131.9 151.4 L132.9 152.5 L134.0 153.7 L135.0 154.8 L136.1 156.0 L137.2 157.1 L138.4 158.2 L139.5 159.4 L140.6 160.5 L141.6 161.6 L142.7 162.8 L143.8 163.9 L144.9 165.1 L145.9 166.2 L147.0 167.4 L148.2 168.5 L149.3 169.6 L150.5 170.8 L151.7 171.9 L152.9 173.1 L154.1 174.2 L155.4 175.4 L156.7 176.5 L158.0 177.7 L159.4 178.8 L160.7 179.9 L162.1 181.1 L163.5 182.2 L164.9 183.3 L166.3 184.5 L167.7 185.6 L169.2 186.8 L170.6 187.9 L172.0 189.0 L173.5 190.2 L174.9 191.3 L176.4 192.4 L177.8 193.5 L179.2 194.7 L180.6 195.8 L182.0 196.9 L183.4 198.0 L184.8 199.1 L186.2 200.2 L187.6 201.4 L189.0 202.5 L190.4 203.6 L191.8 204.7 L193.3 205.8 L194.7 206.9 L196.2 208.0 L197.6 209.1 L199.1 210.1 L200.6 211.2 L202.1 212.3 L203.6 213.4 L205.1 214.5 L206.6 215.5 L208.2 216.6 L209.8 217.7 L211.4 218.7 L213.0 219.8 L214.6 220.9 L216.3 221.9 L218.0 223.0 L219.7 224.0 L221.5 225.0 L223.3 226.1 L225.2 227.1 L227.1 228.1 L229.0 229.1 L231.0 230.2 L233.0 231.2 L235.0 232.2 L237.0 233.2 L239.1 234.2 L241.2 235.2 L243.3 236.2 L245.4 237.1 L247.5 238.1 L249.6 239.1 L251.7 240.1 L253.8 241.0 L255.9 242.0 L258.0 242.9 L260.0 243.9 L262.0 244.8 L264.0 245.8 L265.9 246.7 L267.8 247.6 L269.7 248.5 L271.5 249.4 L273.2 250.3 L274.9 251.2 L276.5 252.1 L278.1 253.0 L279.6 253.9 L281.0 254.8 L282.3 255.6 L283.5 256.5 L284.7 257.3 L285.8 258.2 L286.8 259.0 L287.6 259.9 L288.4 260.7 L289.1 261.5 L289.7 262.3 L290.1 263.1 L290.5 263.9 L290.8 264.7 L291.1 265.5 L291.3 266.3 L291.5 267.0 L291.6 267.8 L291.8 268.6 L292.0 269.3 L292.2 270.0 L292.5 270.8 L292.8 271.5 L293.2 272.2 L293.7 272.9 L294.3 273.6 L295.0 274.3 L295.8 275.0 L296.7 275.7 L297.8 276.3 L299.1 277.0 L300.7 277.7 L302.6 278.3 L304.7 278.9 L307.3 279.6 L310.2 280.2 L313.7 280.8 L318.0 281.4 L323.1 282.0 L328.3 282.6 L332.8 283.1 L336.9 283.7 L340.6 284.3 L343.8 284.8 L346.7 285.4 L349.2 285.9 L351.5 286.4 L353.5 286.9 L355.3 287.4 L356.9 287.9 L358.5 288.4 L356.7 288.9 L354.7 289.4 L352.5 289.8 L350.3 290.3 L347.9 290.7 L345.4 291.2 L342.7 291.6 L340.0 292.0 L337.2 292.4 L334.3 292.8 L331.3 293.2 L328.2 293.6 L325.1 293.9 L322.0 294.3 L318.8 294.6 L315.5 295.0 L312.3 295.3 L309.0 295.6 L305.7 295.9 L302.4 296.2 L299.2 296.5 L295.9 296.8 L292.7 297.1 L289.5 297.3 L286.4 297.6 L283.4 297.8 L280.5 298.1 L277.7 298.3 L275.1 298.5 L272.6 298.7 L270.3 298.9 L268.2 299.1 L266.1 299.3 L264.2 299.4 L262.3 299.6 L260.5 299.7 L258.7 299.9 L257.0 300.0 L255.3 300.1 L253.6 300.2 L251.8 300.3 L250.0 300.4 L248.2 300.5 L246.3 300.5 L244.3 300.6 L242.3 300.6 L240.3 300.7 L238.2 300.7 L236.1 300.7 L234.0 300.7 L231.8 300.7 L229.7 300.7 L227.6 300.7 L225.5 300.6 L223.4 300.6 L221.3 300.5 L219.3 300.5 L217.4 300.4 L215.5 300.3 L213.6 300.2 L211.8 300.1 L210.0 300.0 L208.3 299.9 L206.6 299.7 L204.9 299.6 L203.3 299.4 L201.7 299.3 L200.1 299.1 L198.5 298.9 L196.9 298.7 L195.4 298.5 L193.8 298.3 L192.3 298.1 L190.8 297.8 L189.2 297.6 L187.7 297.3 L186.2 297.1 L184.7 296.8 L183.1 296.5 L181.6 296.2 L180.1 295.9 L178.5 295.6 L177.0 295.3 L175.4 295.0 L173.9 294.6 L172.4 294.3 L170.9 293.9 L169.4 293.6 L167.9 293.2 L166.4 292.8 L165.0 292.4 L163.5 292.0 L162.1 291.6 L160.7 291.2 L159.3 290.7 L158.0 290.3 L156.6 289.8 L155.3 289.4 L153.9 288.9 L152.6 288.4 L151.4 287.9 L150.1 287.4 L148.8 286.9 L147.6 286.4 L146.4 285.9 L145.1 285.4 L143.9 284.8 L142.8 284.3 L141.6 283.7 L140.5 283.1 L139.4 282.6 L138.3 282.0 L137.2 281.4 L136.1 280.8 L135.1 280.2 L134.1 279.6 L133.1 278.9 L132.2 278.3 L131.2 277.7 L130.3 277.0 L129.4 276.3 L128.5 275.7 L127.7 275.0 L126.8 274.3 L126.0 273.6 L125.2 272.9 L124.4 272.2 L123.6 271.5 L122.9 270.8 L122.1 270.0 L121.4 269.3 L120.7 268.6 L120.0 267.8 L119.3 267.0 L118.6 266.3 L117.9 265.5 L117.3 264.7 L116.6 263.9 L116.0 263.1 L115.4 262.3 L114.8 261.5 L114.2 260.7 L113.7 259.9 L113.2 259.0 L112.7 258.2 L112.2 257.3 L111.7 256.5 L111.3 255.6 L110.9 254.8 L110.5 253.9 L110.1 253.0 L109.8 252.1 L109.5 251.2 L109.2 250.3 L108.9 249.4 L108.7 248.5 L108.5 247.6 L108.3 246.7 L108.1 245.8 L108.0 244.8 L107.8 243.9 L107.7 242.9 L107.7 242.0 L107.6 241.0 L107.6 240.1 L107.6 239.1 L107.6 238.1 L107.6 237.1 L107.7 236.2 L107.8 235.2 L107.9 234.2 L108.0 233.2 L108.1 232.2 L108.3 231.2 L108.5 230.2 L108.7 229.1 L108.9 228.1 L109.2 227.1 L109.4 226.1 L109.7 225.0 L110.0 224.0 L110.4 223.0 L110.7 221.9 L111.1 220.9 L111.5 219.8 L111.9 218.7 L112.3 217.7 L112.8 216.6 L113.3 215.5 L113.8 214.5 L114.3 213.4 L114.9 212.3 L115.4 211.2 L116.0 210.1 L116.6 209.1 L117.3 208.0 L117.9 206.9 L118.6 205.8 L119.2 204.7 L119.9 203.6 L120.7 202.5 L121.4 201.4 L122.1 200.2 L122.9 199.1 L123.7 198.0 L124.5 196.9 L125.3 195.8 L126.2 194.7 L127.0 193.5 L127.9 192.4 L128.9 191.3 L129.9 190.2 L130.8 189.0 L131.9 187.9 L132.9 186.8 L134.0 185.6 L135.0 184.5 L136.1 183.3 L137.2 182.2 L138.4 181.1 L139.5 179.9 L140.6 178.8 L141.6 177.7 L142.7 176.5 L143.8 175.4 L144.9 174.2 L145.9 173.1 L147.0 171.9 L148.2 170.8 L149.3 169.7" stroke="#0e0eb6" stroke-width="1.6" stroke-dasharray="4.8 2.6"/>
</g>
<rect x="242.4" y="167.4" width="4.5" height="4.5" fill="none" stroke="#d80f24" stroke-width="1.75"/>
<rect x="282.7" y="134.8" width="4.5" height="4.5" fill="none" stroke="#d80f24" stroke-width="1.75"/>
<rect x="329.5" y="104.3" width="4.5" height="4.5" fill="none" stroke="#d80f24" stroke-width="1.75"/>
<rect x="379.2" y="77.7" width="4.5" height="4.5" fill="none" stroke="#d80f24" stroke-width="1.75"/>
<rect x="402.2" y="56.8" width="4.5" height="4.5" fill="none" stroke="#d80f24" stroke-width="1.75"/>
<rect x="410.9" y="42.8" width="4.5" height="4.5" fill="none" stroke="#d80f24" stroke-width="1.75"/>
<rect x="335.7" y="36.6" width="4.5" height="4.5" fill="none" stroke="#d80f24" stroke-width="1.75"/>
<rect x="281.6" y="38.7" width="4.5" height="4.5" fill="none" stroke="#d80f24" stroke-width="1.75"/>
<rect x="239.4" y="48.8" width="4.5" height="4.5" fill="none" stroke="#d80f24" stroke-width="1.75"/>
<rect x="211.7" y="66.4" width="4.5" height="4.5" fill="none" stroke="#d80f24" stroke-width="1.75"/>
<rect x="199.3" y="90.4" width="4.5" height="4.5" fill="none" stroke="#d80f24" stroke-width="1.75"/>
<rect x="204.9" y="119.2" width="4.5" height="4.5" fill="none" stroke="#d80f24" stroke-width="1.75"/>
<rect x="227.5" y="151.0" width="4.5" height="4.5" fill="none" stroke="#d80f24" stroke-width="1.75"/>
<rect x="262.4" y="183.8" width="4.5" height="4.5" fill="none" stroke="#d80f24" stroke-width="1.75"/>
<rect x="305.0" y="215.6" width="4.5" height="4.5" fill="none" stroke="#d80f24" stroke-width="1.75"/>
<rect x="359.9" y="244.4" width="4.5" height="4.5" fill="none" stroke="#d80f24" stroke-width="1.75"/>
<rect x="384.6" y="268.4" width="4.5" height="4.5" fill="none" stroke="#d80f24" stroke-width="1.75"/>
<rect x="448.8" y="286.0" width="4.5" height="4.5" fill="none" stroke="#d80f24" stroke-width="1.75"/>
<rect x="365.6" y="296.1" width="4.5" height="4.5" fill="none" stroke="#d80f24" stroke-width="1.75"/>
<rect x="306.8" y="298.2" width="4.5" height="4.5" fill="none" stroke="#d80f24" stroke-width="1.75"/>
<rect x="260.3" y="292.0" width="4.5" height="4.5" fill="none" stroke="#d80f24" stroke-width="1.75"/>
<rect x="224.3" y="278.0" width="4.5" height="4.5" fill="none" stroke="#d80f24" stroke-width="1.75"/>
<rect x="204.2" y="257.1" width="4.5" height="4.5" fill="none" stroke="#d80f24" stroke-width="1.75"/>
<rect x="200.3" y="230.5" width="4.5" height="4.5" fill="none" stroke="#d80f24" stroke-width="1.75"/>
<rect x="214.6" y="200.0" width="4.5" height="4.5" fill="none" stroke="#d80f24" stroke-width="1.75"/>
<circle cx="139.0" cy="169.7" r="2.2" fill="#74ea74" stroke="#1fd81f" stroke-width="2"/>
<circle cx="179.0" cy="137.1" r="2.2" fill="#74ea74" stroke="#1fd81f" stroke-width="2"/>
<circle cx="226.2" cy="106.5" r="2.2" fill="#74ea74" stroke="#1fd81f" stroke-width="2"/>
<circle cx="277.6" cy="79.9" r="2.2" fill="#74ea74" stroke="#1fd81f" stroke-width="2"/>
<circle cx="301.4" cy="59.0" r="2.2" fill="#74ea74" stroke="#1fd81f" stroke-width="2"/>
<circle cx="312.8" cy="45.0" r="2.2" fill="#74ea74" stroke="#1fd81f" stroke-width="2"/>
<circle cx="238.9" cy="38.9" r="2.2" fill="#74ea74" stroke="#1fd81f" stroke-width="2"/>
<circle cx="185.7" cy="40.9" r="2.2" fill="#74ea74" stroke="#1fd81f" stroke-width="2"/>
<circle cx="142.8" cy="51.1" r="2.2" fill="#74ea74" stroke="#1fd81f" stroke-width="2"/>
<circle cx="113.0" cy="68.7" r="2.2" fill="#74ea74" stroke="#1fd81f" stroke-width="2"/>
<circle cx="98.4" cy="92.6" r="2.2" fill="#74ea74" stroke="#1fd81f" stroke-width="2"/>
<circle cx="102.0" cy="121.4" r="2.2" fill="#74ea74" stroke="#1fd81f" stroke-width="2"/>
<circle cx="123.5" cy="153.2" r="2.2" fill="#74ea74" stroke="#1fd81f" stroke-width="2"/>
<circle cx="158.2" cy="186.1" r="2.2" fill="#74ea74" stroke="#1fd81f" stroke-width="2"/>
<circle cx="200.1" cy="217.9" r="2.2" fill="#74ea74" stroke="#1fd81f" stroke-width="2"/>
<circle cx="256.4" cy="246.7" r="2.2" fill="#74ea74" stroke="#1fd81f" stroke-width="2"/>
<circle cx="282.4" cy="270.6" r="2.2" fill="#74ea74" stroke="#1fd81f" stroke-width="2"/>
<circle cx="349.5" cy="288.2" r="2.2" fill="#74ea74" stroke="#1fd81f" stroke-width="2"/>
<circle cx="266.8" cy="298.4" r="2.2" fill="#74ea74" stroke="#1fd81f" stroke-width="2"/>
<circle cx="209.7" cy="300.4" r="2.2" fill="#74ea74" stroke="#1fd81f" stroke-width="2"/>
<circle cx="163.3" cy="294.3" r="2.2" fill="#74ea74" stroke="#1fd81f" stroke-width="2"/>
<circle cx="125.9" cy="280.3" r="2.2" fill="#74ea74" stroke="#1fd81f" stroke-width="2"/>
<circle cx="103.4" cy="259.4" r="2.2" fill="#74ea74" stroke="#1fd81f" stroke-width="2"/>
<circle cx="98.2" cy="232.8" r="2.2" fill="#74ea74" stroke="#1fd81f" stroke-width="2"/>
<circle cx="110.8" cy="202.2" r="2.2" fill="#74ea74" stroke="#1fd81f" stroke-width="2"/>
<path d="M146.3 169.7h6M149.3 166.7v6" stroke="#0e0eb6" stroke-width="1.8" fill="none"/>
<path d="M185.7 137.1h6M188.7 134.1v6" stroke="#0e0eb6" stroke-width="1.8" fill="none"/>
<path d="M233.2 106.5h6M236.2 103.5v6" stroke="#0e0eb6" stroke-width="1.8" fill="none"/>
<path d="M284.1 79.9h6M287.1 76.9v6" stroke="#0e0eb6" stroke-width="1.8" fill="none"/>
<path d="M307.9 59.0h6M310.9 56.0v6" stroke="#0e0eb6" stroke-width="1.8" fill="none"/>
<path d="M319.0 45.0h6M322.0 42.0v6" stroke="#0e0eb6" stroke-width="1.8" fill="none"/>
<path d="M245.6 38.9h6M248.6 35.9v6" stroke="#0e0eb6" stroke-width="1.8" fill="none"/>
<path d="M191.5 40.9h6M194.5 37.9v6" stroke="#0e0eb6" stroke-width="1.8" fill="none"/>
<path d="M149.1 51.1h6M152.1 48.1v6" stroke="#0e0eb6" stroke-width="1.8" fill="none"/>
<path d="M119.7 68.7h6M122.7 65.7v6" stroke="#0e0eb6" stroke-width="1.8" fill="none"/>
<path d="M105.3 92.6h6M108.3 89.6v6" stroke="#0e0eb6" stroke-width="1.8" fill="none"/>
<path d="M109.2 121.4h6M112.2 118.4v6" stroke="#0e0eb6" stroke-width="1.8" fill="none"/>
<path d="M130.5 153.2h6M133.5 150.2v6" stroke="#0e0eb6" stroke-width="1.8" fill="none"/>
<path d="M165.3 186.1h6M168.3 183.1v6" stroke="#0e0eb6" stroke-width="1.8" fill="none"/>
<path d="M207.1 217.9h6M210.1 214.9v6" stroke="#0e0eb6" stroke-width="1.8" fill="none"/>
<path d="M262.9 246.7h6M265.9 243.7v6" stroke="#0e0eb6" stroke-width="1.8" fill="none"/>
<path d="M289.4 270.6h6M292.4 267.6v6" stroke="#0e0eb6" stroke-width="1.8" fill="none"/>
<path d="M354.9 288.2h6M357.9 285.2v6" stroke="#0e0eb6" stroke-width="1.8" fill="none"/>
<path d="M273.6 298.4h6M276.6 295.4v6" stroke="#0e0eb6" stroke-width="1.8" fill="none"/>
<path d="M215.9 300.4h6M218.9 297.4v6" stroke="#0e0eb6" stroke-width="1.8" fill="none"/>
<path d="M169.4 294.3h6M172.4 291.3v6" stroke="#0e0eb6" stroke-width="1.8" fill="none"/>
<path d="M132.3 280.3h6M135.3 277.3v6" stroke="#0e0eb6" stroke-width="1.8" fill="none"/>
<path d="M110.4 259.4h6M113.4 256.4v6" stroke="#0e0eb6" stroke-width="1.8" fill="none"/>
<path d="M105.1 232.8h6M108.1 229.8v6" stroke="#0e0eb6" stroke-width="1.8" fill="none"/>
<path d="M117.8 202.2h6M120.8 199.2v6" stroke="#0e0eb6" stroke-width="1.8" fill="none"/>
<path d="M155.3 148.8V166.4M131.4 205.6L151.5 221.8" stroke="#aaa" stroke-width="0.7" fill="none"/>
<g font-family="'Liberation Serif', serif" fill="#000" stroke="#000" stroke-width="0.24">
<g font-size="12px" text-anchor="middle">
<text x="57.2" y="313.4" stroke-width="0.34" textLength="27.0" lengthAdjust="spacingAndGlyphs">−200</text>
<text x="113.9" y="313.4" stroke-width="0.34" textLength="27.0" lengthAdjust="spacingAndGlyphs">−150</text>
<text x="170.6" y="313.4" stroke-width="0.34" textLength="27.0" lengthAdjust="spacingAndGlyphs">−100</text>
<text x="227.3" y="313.4" stroke-width="0.34" textLength="21.0" lengthAdjust="spacingAndGlyphs">−50</text>
<text x="284.1" y="313.4" stroke-width="0.34" textLength="6.0" lengthAdjust="spacingAndGlyphs">0</text>
<text x="340.8" y="313.4" stroke-width="0.34" textLength="12.0" lengthAdjust="spacingAndGlyphs">50</text>
<text x="397.5" y="313.4" stroke-width="0.34" textLength="18.0" lengthAdjust="spacingAndGlyphs">100</text>
<text x="454.2" y="313.4" stroke-width="0.34" textLength="18.0" lengthAdjust="spacingAndGlyphs">150</text>
<text x="510.9" y="313.4" stroke-width="0.34" textLength="18.0" lengthAdjust="spacingAndGlyphs">200</text>
</g>
<g font-size="12px" text-anchor="end">
<text x="53.1" y="42.5" stroke-width="0.34" textLength="22.8" lengthAdjust="spacingAndGlyphs">0.10</text>
<text x="53.1" y="68.7" stroke-width="0.34" textLength="22.8" lengthAdjust="spacingAndGlyphs">0.08</text>
<text x="53.1" y="94.9" stroke-width="0.34" textLength="22.8" lengthAdjust="spacingAndGlyphs">0.06</text>
<text x="53.1" y="121.1" stroke-width="0.34" textLength="22.8" lengthAdjust="spacingAndGlyphs">0.04</text>
<text x="53.1" y="147.3" stroke-width="0.34" textLength="22.8" lengthAdjust="spacingAndGlyphs">0.02</text>
<text x="53.1" y="173.5" stroke-width="0.34" textLength="22.8" lengthAdjust="spacingAndGlyphs">0.00</text>
<text x="53.1" y="199.8" stroke-width="0.34" textLength="31.4" lengthAdjust="spacingAndGlyphs">−0.02</text>
<text x="53.1" y="226.0" stroke-width="0.34" textLength="31.4" lengthAdjust="spacingAndGlyphs">−0.04</text>
<text x="53.1" y="252.2" stroke-width="0.34" textLength="31.4" lengthAdjust="spacingAndGlyphs">−0.06</text>
<text x="53.1" y="278.4" stroke-width="0.34" textLength="31.4" lengthAdjust="spacingAndGlyphs">−0.08</text>
<text x="53.1" y="304.6" stroke-width="0.34" textLength="31.4" lengthAdjust="spacingAndGlyphs">−0.10</text>
</g>
<text x="284.5" y="8.6" font-size="10.4px" text-anchor="middle" textLength="223.3" lengthAdjust="spacingAndGlyphs">Drag cycle of plunging NACA0012 airfoil</text>
<text x="132.3" y="23.3" font-size="10.4px"  textLength="2.8" lengthAdjust="spacingAndGlyphs">(</text>
<text x="136.5" y="23.3" font-size="10.4px" font-style="italic" textLength="6.9" lengthAdjust="spacingAndGlyphs">k</text>
<text x="147.2" y="23.3" font-size="10.4px"  textLength="7.7" lengthAdjust="spacingAndGlyphs">=</text>
<text x="159.5" y="23.3" font-size="10.4px"  textLength="21.6" lengthAdjust="spacingAndGlyphs">1.00</text>
<text x="186.2" y="23.3" font-size="10.4px"  textLength="2.2" lengthAdjust="spacingAndGlyphs">;</text>
<text x="193.4" y="23.3" font-size="10.4px" font-style="italic" textLength="6.4" lengthAdjust="spacingAndGlyphs">h</text>
<text x="203.8" y="23.3" font-size="10.4px"  textLength="7.7" lengthAdjust="spacingAndGlyphs">=</text>
<text x="216.9" y="23.3" font-size="10.4px"  textLength="14.6" lengthAdjust="spacingAndGlyphs">0.1</text>
<text x="237.4" y="23.3" font-size="10.4px"  textLength="2.2" lengthAdjust="spacingAndGlyphs">;</text>
<text x="244.6" y="23.3" font-size="10.4px" font-style="italic" textLength="10.8" lengthAdjust="spacingAndGlyphs">M</text>
<text x="271.2" y="23.3" font-size="10.4px"  textLength="7.8" lengthAdjust="spacingAndGlyphs">=</text>
<text x="283.8" y="23.3" font-size="10.4px"  textLength="14.4" lengthAdjust="spacingAndGlyphs">0.7</text>
<text x="304.2" y="23.3" font-size="10.4px"  textLength="2.2" lengthAdjust="spacingAndGlyphs">;</text>
<text x="311.9" y="23.3" font-size="10.4px" font-style="italic" textLength="13.9" lengthAdjust="spacingAndGlyphs">Re</text>
<text x="340.8" y="23.3" font-size="10.4px"  textLength="7.7" lengthAdjust="spacingAndGlyphs">=</text>
<text x="383.9" y="23.3" font-size="10.4px"  textLength="2.2" lengthAdjust="spacingAndGlyphs">;</text>
<text x="390.7" y="23.3" font-size="10.4px" font-style="italic" textLength="8.5" lengthAdjust="spacingAndGlyphs">α</text>
<text x="407.3" y="23.3" font-size="10.4px"  textLength="8.0" lengthAdjust="spacingAndGlyphs">=</text>
<text x="420.8" y="23.3" font-size="10.4px"  textLength="5.7" lengthAdjust="spacingAndGlyphs">0</text>
<text x="427.3" y="23.3" font-size="10.4px"  textLength="4.4" lengthAdjust="spacingAndGlyphs">°</text>
<text x="433.5" y="23.3" font-size="10.4px"  textLength="2.9" lengthAdjust="spacingAndGlyphs">)</text>
<text x="345.8" y="22.7" font-size="15.0px"  textLength="19.2" lengthAdjust="spacingAndGlyphs">→</text>
<text x="366.6" y="24.4" font-size="15.0px"  textLength="11.8" lengthAdjust="spacingAndGlyphs">∞</text>
<text x="255.5" y="26.2" font-size="10.5px"  textLength="10.8" lengthAdjust="spacingAndGlyphs">∞</text>
<text x="326.3" y="26.2" font-size="10.5px"  textLength="10.6" lengthAdjust="spacingAndGlyphs">∞</text>
<text x="400.4" y="25.6" font-size="8.0px" font-style="italic" textLength="3.8" lengthAdjust="spacingAndGlyphs">e</text>
<path d="M195 14.6h4.6M392.5 17.2h5.6" stroke="#000" stroke-width="0.7"/>
<text x="260.6" y="332.9" font-size="12.4px" font-style="italic" stroke-width="0.36" textLength="9.8" lengthAdjust="spacingAndGlyphs">C</text>
<text x="270.4" y="335.0" font-size="8.5px" font-style="italic" stroke-width="0.4" textLength="4.6" lengthAdjust="spacingAndGlyphs">d</text>
<text x="279.2" y="335.2" font-size="13.6px" stroke-width="0.36" textLength="7.5" lengthAdjust="spacingAndGlyphs">×</text>
<text x="290.8" y="332.9" font-size="12.4px" stroke-width="0.36" textLength="12.6" lengthAdjust="spacingAndGlyphs">10</text>
<text x="303.7" y="329.2" font-size="8.5px" stroke-width="0.36" textLength="4.3" lengthAdjust="spacingAndGlyphs">4</text>
<g transform="translate(9.6 178.7) rotate(-90)" font-style="italic" stroke-width="0.4">
<text x="0" y="0" font-size="12.4px" textLength="6.4" lengthAdjust="spacingAndGlyphs">h</text>
<text x="5.4" y="2.7" font-size="17.5px" textLength="7.8" lengthAdjust="spacingAndGlyphs">/</text>
<text x="12.5" y="0" font-size="12.4px" textLength="5.8" lengthAdjust="spacingAndGlyphs">c</text>
</g>
<text x="147.6" y="145.2" font-size="12.0px" font-weight="bold" textLength="5.4" lengthAdjust="spacingAndGlyphs">4</text>
<text x="153.2" y="145.2" font-size="13.0px" font-style="italic" stroke-width="0.45" textLength="11.2" lengthAdjust="spacingAndGlyphs">T</text>
<text x="134.8" y="236.6" font-size="12.4px" font-weight="bold" textLength="5.6" lengthAdjust="spacingAndGlyphs">4</text>
<text x="140.6" y="236.6" font-size="13.0px" font-style="italic" stroke-width="0.45" textLength="11.8" lengthAdjust="spacingAndGlyphs">T</text>
<text x="155.4" y="237.4" font-size="14.0px" stroke-width="0.45" textLength="8.4" lengthAdjust="spacingAndGlyphs">+</text>
<text x="164.7" y="236.6" font-size="13.0px" font-style="italic" stroke-width="0.45" textLength="12.2" lengthAdjust="spacingAndGlyphs">T</text>
<text x="176.9" y="239.4" font-size="19.5px" stroke-width="0.5" textLength="6.2" lengthAdjust="spacingAndGlyphs">/</text>
<text x="183.3" y="236.6" font-size="12.4px" font-weight="bold" textLength="11.2" lengthAdjust="spacingAndGlyphs">25</text>
<rect x="420.5" y="145.5" width="79.5" height="57.5" fill="#fff" stroke="none"/>
<g fill="none" stroke-linejoin="round">
<path d="M424.4 152.8H445.8" stroke="#000" stroke-width="1.75"/>
<path d="M424.4 166.2H445.8" stroke="#d80f24" stroke-width="1.5" stroke-dasharray="4.2 1.6 1.2 1.6"/>
<path d="M424.4 180.8H445.8" stroke="#66e266" stroke-width="1.25" stroke-dasharray="2.2 0.4"/>
<path d="M424.4 195.8H445.8" stroke="#0e0eb6" stroke-width="1.6" stroke-dasharray="4.4 2.6"/>
</g>
<rect x="433.1" y="163.9" width="4.5" height="4.5" fill="none" stroke="#d80f24" stroke-width="1.75"/>
<circle cx="435.4" cy="180.8" r="2.2" fill="#74ea74" stroke="#1fd81f" stroke-width="2"/>
<path d="M432.4 195.8h6M435.4 192.8v6" stroke="#0e0eb6" stroke-width="1.8" fill="none"/>
<text x="449.6" y="155.6" font-size="9.2px" font-weight="bold" textLength="7.4" lengthAdjust="spacingAndGlyphs">F</text>
<text x="458.0" y="157.0" font-size="6.6px" font-weight="bold" font-style="italic" textLength="8.6" lengthAdjust="spacingAndGlyphs">nf</text>
<text x="449.6" y="169.1" font-size="9.2px" font-weight="bold" textLength="7.4" lengthAdjust="spacingAndGlyphs">F</text>
<text x="457.8" y="171.9" font-size="6.6px" font-weight="bold" font-style="italic" textLength="8.2" lengthAdjust="spacingAndGlyphs">ff</text>
<text x="458.6" y="165.5" font-size="6.2px" font-weight="bold" font-style="italic" textLength="10.0" lengthAdjust="spacingAndGlyphs">vrt</text>
<text x="449.6" y="184.3" font-size="9.2px" font-weight="bold" textLength="7.4" lengthAdjust="spacingAndGlyphs">F</text>
<text x="457.8" y="187.1" font-size="6.6px" font-weight="bold" font-style="italic" textLength="8.2" lengthAdjust="spacingAndGlyphs">ff</text>
<text x="458.6" y="180.7" font-size="6.2px" font-weight="bold" font-style="italic" textLength="11.6" lengthAdjust="spacingAndGlyphs">thd</text>
<text x="449.6" y="198.9" font-size="9.2px" font-weight="bold" textLength="7.4" lengthAdjust="spacingAndGlyphs">F</text>
<text x="457.8" y="201.7" font-size="6.6px" font-weight="bold" font-style="italic" textLength="8.2" lengthAdjust="spacingAndGlyphs">ff</text>
<text x="458.6" y="195.3" font-size="6.2px" font-weight="bold" font-style="italic" textLength="19.6" lengthAdjust="spacingAndGlyphs">THD</text>
</g>
</svg>
</body></html>
